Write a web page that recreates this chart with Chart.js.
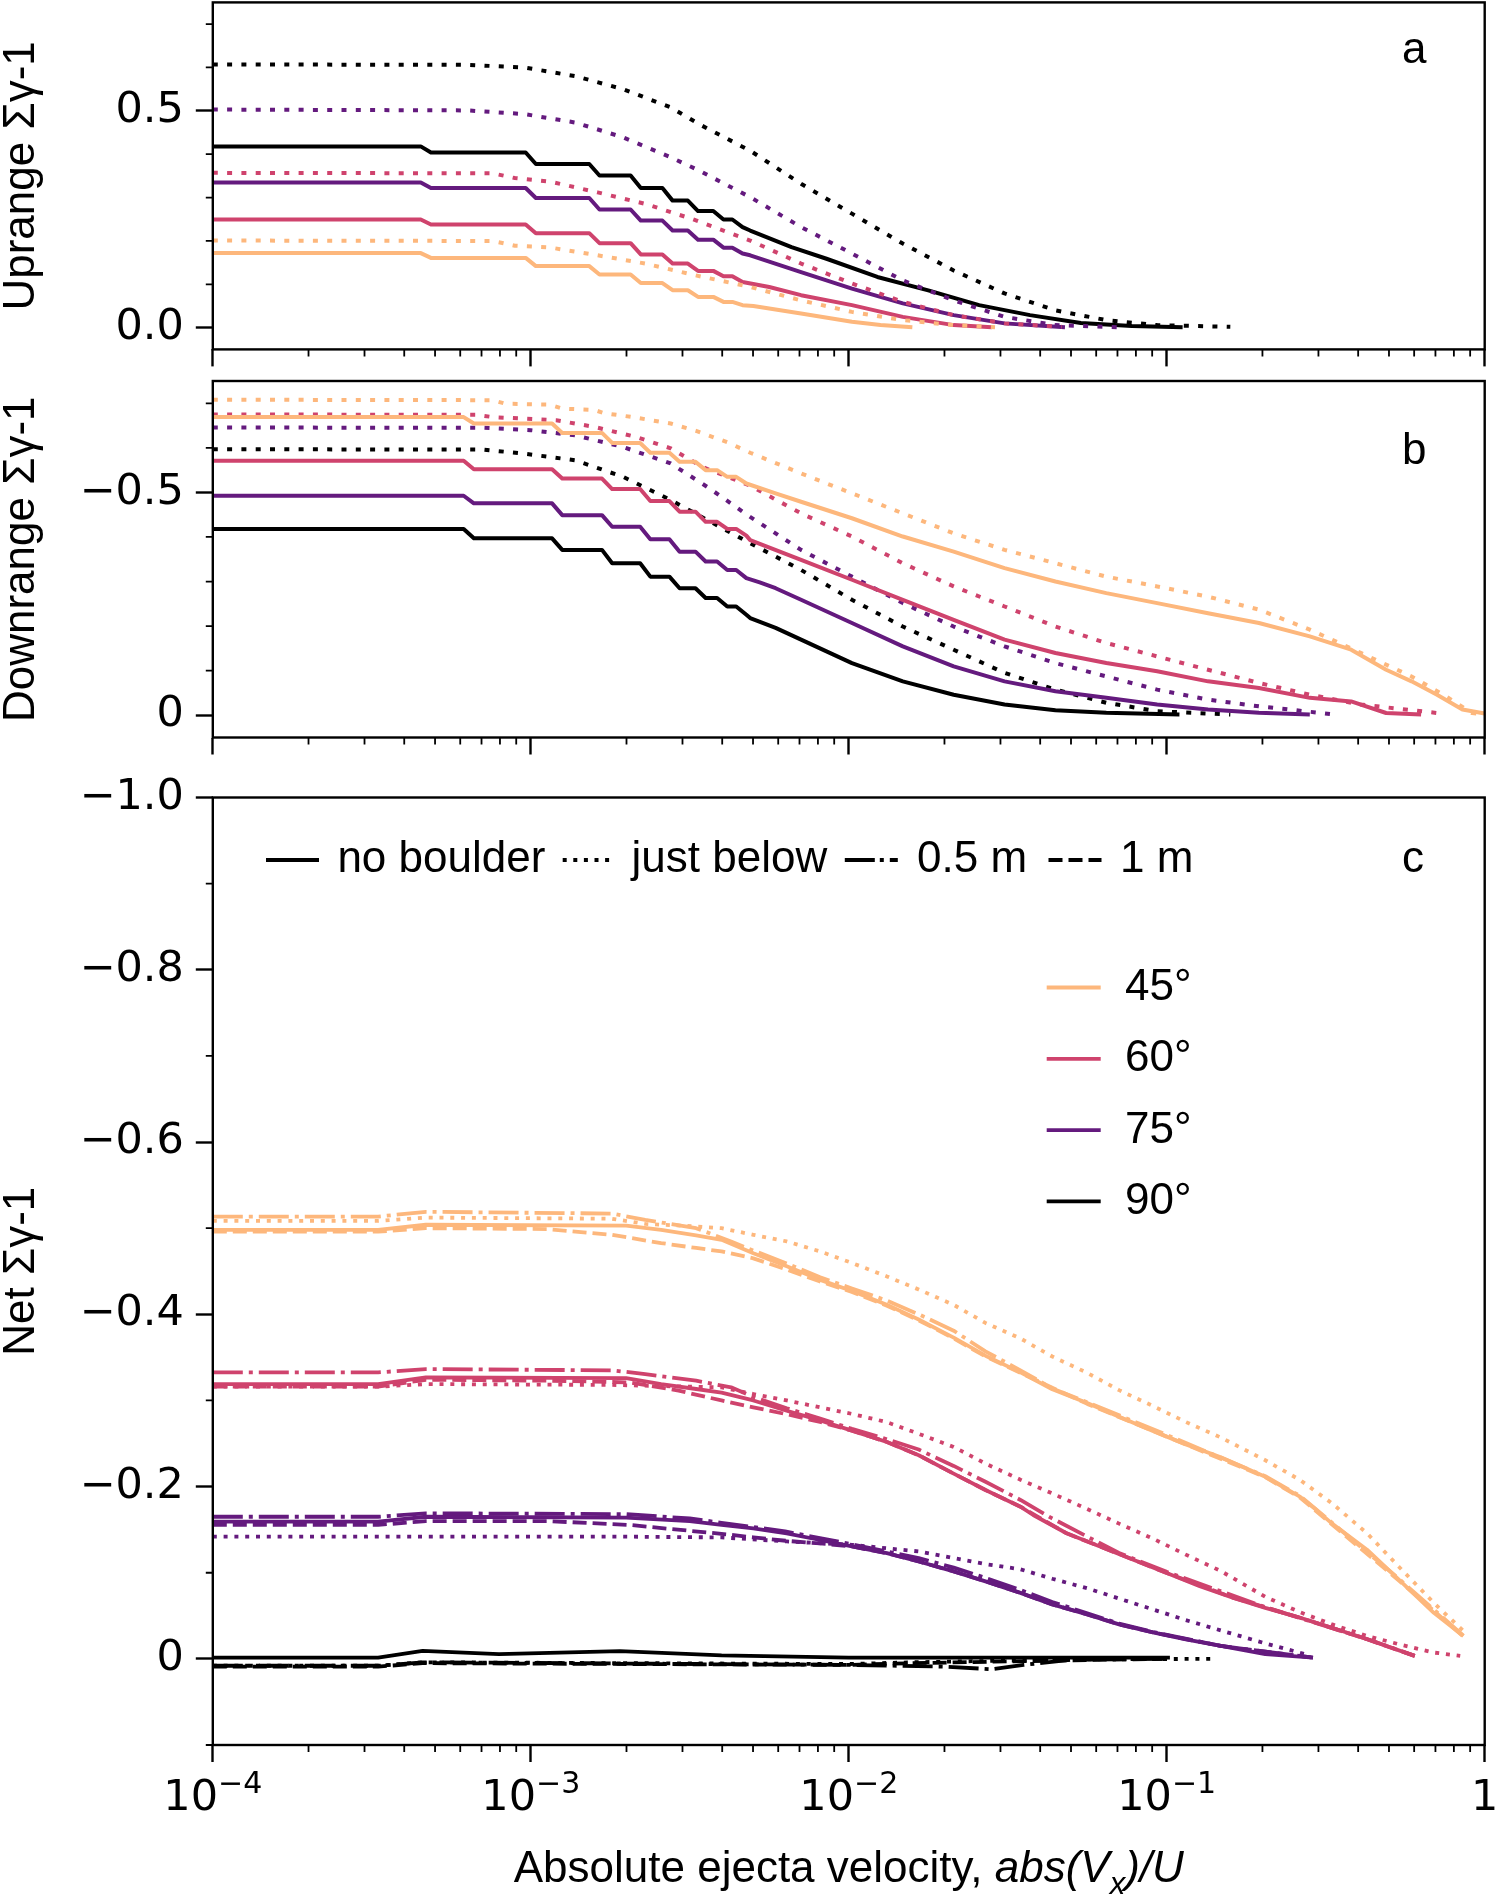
<!DOCTYPE html>
<html><head><meta charset="utf-8">
<script src="https://cdn.jsdelivr.net/npm/chart.js@4.4.1/dist/chart.umd.min.js"></script>
<style>
html,body{margin:0;padding:0;background:#fff;}
body{width:1498px;height:1896px;position:relative;overflow:hidden;}
canvas{position:absolute;left:0;}
</style></head><body>
<canvas id="ca" width="1498" height="375" style="top:0px;width:1498px;height:375px"></canvas>
<canvas id="cb" width="1498" height="395" style="top:375px;width:1498px;height:395px"></canvas>
<canvas id="cc" width="1498" height="1126" style="top:770px;width:1498px;height:1126px"></canvas>
<script>
// ---------- axis ticks and labels ----------
const xMajorTicks = [1e-4, 1e-3, 1e-2, 1e-1, 1];
const xTickBase = ['10', '10', '10', '10', '1'];
const xTickExp = ['\u22124', '\u22123', '\u22122', '\u22121', ''];
const xMinorTicks = [2e-4,3e-4,4e-4,5e-4,6e-4,7e-4,8e-4,9e-4,
  2e-3,3e-3,4e-3,5e-3,6e-3,7e-3,8e-3,9e-3,
  2e-2,3e-2,4e-2,5e-2,6e-2,7e-2,8e-2,9e-2,
  0.2,0.3,0.4,0.5,0.6,0.7,0.8,0.9];
const aYTicks = [0, 0.5];
const aYTickLabels = ['0.0', '0.5'];
const aYMinor = [0.1, 0.2, 0.3, 0.4, 0.6, 0.7];
const bYTicks = [-0.5, 0];
const bYTickLabels = ['\u22120.5', '0'];
const bYMinor = [-0.7, -0.6, -0.4, -0.3, -0.2, -0.1];
const cYTicks = [-1.0, -0.8, -0.6, -0.4, -0.2, 0];
const cYTickLabels = ['\u22121.0', '\u22120.8', '\u22120.6', '\u22120.4', '\u22120.2', '0'];
const cYMinor = [-0.9, -0.7, -0.5, -0.3, -0.1, 0.1];

const angleLabels = ['45\u00b0', '60\u00b0', '75\u00b0', '90\u00b0'];
const angleColors = ['#fdb77c', '#cf436d', '#641a7e', '#000000'];
const styleLabels = ['no boulder', 'just below', '0.5 m', '1 m'];

// ---------- panel a : Uprange (pairs are [log10(|Vx|/U), value]) ----------
const aStepLogX = [-3.33, -3.00, -2.80, -2.67, -2.57, -2.49, -2.41, -2.35];
const aLevels45 = [0.172, 0.161, 0.142, 0.1225, 0.103, 0.0864, 0.071, 0.0595, 0.052];
const aLevels60 = [0.2495, 0.238, 0.218, 0.195, 0.169, 0.148, 0.131, 0.1186, 0.1055];
const aLevels75 = [0.335, 0.322, 0.299, 0.2725, 0.247, 0.224, 0.203, 0.1845, 0.171];
const aLevels90 = [0.418, 0.404, 0.3775, 0.351, 0.322, 0.293, 0.269, 0.2495, 0.232];
const aTail45 = [[-2.30,0.050],[-2.15,0.033],[-1.99,0.0136],[-1.90,0.006],[-1.80,0.001]];
const aTail60 = [[-2.25,0.094],[-2.15,0.075],[-1.99,0.052],[-1.83,0.025],[-1.67,0.006],[-1.55,0.001]];
const aTail75 = [[-2.31,0.167],[-2.15,0.128],[-1.99,0.090],[-1.83,0.056],[-1.67,0.029],[-1.51,0.010],[-1.32,0.001]];
const aTail90 = [[-2.31,0.224],[-2.18,0.186],[-2.07,0.159],[-1.91,0.117],[-1.75,0.086],[-1.59,0.052],[-1.43,0.029],[-1.27,0.011],[-1.11,0.004],[-0.95,0.001]];
const aDot45 = [[-4,0.201],[-3.12,0.200],[-3.05,0.189],[-2.94,0.185],[-2.79,0.167],[-2.64,0.148],[-2.49,0.122],[-2.31,0.094],[-2.15,0.063],[-1.99,0.0365],[-1.83,0.0175],[-1.67,0.006],[-1.54,0.001]];
const aDot60 = [[-4,0.357],[-3.12,0.356],[-3.05,0.345],[-2.94,0.337],[-2.79,0.312],[-2.64,0.2856],[-2.49,0.250],[-2.31,0.201],[-2.15,0.148],[-1.99,0.102],[-1.83,0.0595],[-1.67,0.029],[-1.51,0.010],[-1.33,0.002]];
const aDot75 = [[-4,0.503],[-3.2,0.501],[-3.02,0.4925],[-2.86,0.473],[-2.71,0.439],[-2.56,0.393],[-2.47,0.362],[-2.31,0.301],[-2.15,0.232],[-1.99,0.171],[-1.83,0.109],[-1.67,0.063],[-1.51,0.025],[-1.35,0.006],[-1.15,0.001]];
const aDot90 = [[-4,0.607],[-3.2,0.606],[-3.02,0.600],[-2.86,0.580],[-2.71,0.550],[-2.56,0.508],[-2.47,0.469],[-2.31,0.408],[-2.15,0.332],[-1.99,0.263],[-1.83,0.194],[-1.67,0.132],[-1.51,0.079],[-1.35,0.040],[-1.19,0.0175],[-1.03,0.006],[-0.80,0.002]];

// ---------- panel b : Downrange ----------
const bStepLogX = [-3.195, -2.917, -2.76, -2.64, -2.548, -2.466, -2.398, -2.338];
const bLevels45 = [-0.669, -0.6546, -0.6335, -0.611, -0.589, -0.5686, -0.550, -0.535, -0.520];
const bLevels60 = [-0.571, -0.552, -0.531, -0.5075, -0.4806, -0.4567, -0.434, -0.418, -0.403];
const bLevels75 = [-0.4925, -0.4755, -0.449, -0.423, -0.395, -0.367, -0.345, -0.326, -0.3076];
const bLevels90 = [-0.418, -0.397, -0.371, -0.341, -0.311, -0.285, -0.263, -0.244, -0.2254];
const bTail45 = [[-2.23,-0.498],[-2.15,-0.479],[-1.99,-0.442],[-1.83,-0.401],[-1.67,-0.367],[-1.51,-0.330],[-1.35,-0.300],[-1.19,-0.274],[-1.03,-0.2516],[-0.87,-0.229],[-0.71,-0.207],[-0.55,-0.177],[-0.42,-0.147],[-0.31,-0.102],[-0.23,-0.076],[-0.15,-0.046],[-0.07,-0.013],[0.0,-0.004]];
const bTail60 = [[-2.31,-0.393],[-2.15,-0.3486],[-1.99,-0.304],[-1.83,-0.259],[-1.67,-0.214],[-1.51,-0.1695],[-1.35,-0.1397],[-1.19,-0.117],[-1.03,-0.0985],[-0.87,-0.076],[-0.71,-0.061],[-0.55,-0.039],[-0.42,-0.031],[-0.31,-0.005],[-0.20,-0.0016]];
const bTail75 = [[-2.28,-0.298],[-2.23,-0.285],[-2.15,-0.259],[-1.99,-0.207],[-1.83,-0.1545],[-1.67,-0.1097],[-1.51,-0.076],[-1.35,-0.0537],[-1.19,-0.039],[-1.03,-0.024],[-0.87,-0.0128],[-0.71,-0.0054],[-0.55,-0.0016]];
const bTail90 = [[-2.31,-0.218],[-2.23,-0.196],[-2.15,-0.1695],[-1.99,-0.117],[-1.83,-0.076],[-1.67,-0.046],[-1.51,-0.024],[-1.35,-0.011],[-1.19,-0.0054],[-0.96,-0.0016]];
const bDot45 = [[-4,-0.708],[-3.12,-0.707],[-3.08,-0.699],[-2.94,-0.697],[-2.90,-0.688],[-2.80,-0.685],[-2.77,-0.678],[-2.68,-0.669],[-2.56,-0.6546],[-2.48,-0.638],[-2.38,-0.612],[-2.31,-0.589],[-2.15,-0.5426],[-1.99,-0.498],[-1.83,-0.453],[-1.67,-0.408],[-1.51,-0.371],[-1.35,-0.341],[-1.19,-0.311],[-1.03,-0.289],[-0.87,-0.266],[-0.71,-0.237],[-0.55,-0.192],[-0.39,-0.140],[-0.23,-0.087],[-0.13,-0.046],[-0.04,-0.005],[0.0,-0.002]];
const bDot60 = [[-4,-0.675],[-3.17,-0.674],[-3.12,-0.669],[-2.92,-0.662],[-2.80,-0.647],[-2.67,-0.6246],[-2.56,-0.599],[-2.46,-0.557],[-2.31,-0.515],[-2.15,-0.453],[-1.99,-0.401],[-1.83,-0.341],[-1.67,-0.289],[-1.51,-0.244],[-1.35,-0.199],[-1.19,-0.162],[-1.03,-0.132],[-0.87,-0.102],[-0.71,-0.0725],[-0.55,-0.046],[-0.39,-0.024],[-0.15,-0.005],[-0.13,-0.003]];
const bDot75 = [[-4,-0.6456],[-3.15,-0.645],[-3.0,-0.6396],[-2.86,-0.628],[-2.71,-0.602],[-2.56,-0.565],[-2.44,-0.51],[-2.31,-0.445],[-2.15,-0.371],[-1.99,-0.311],[-1.83,-0.2516],[-1.67,-0.199],[-1.51,-0.1545],[-1.35,-0.117],[-1.19,-0.087],[-1.03,-0.0575],[-0.87,-0.035],[-0.71,-0.020],[-0.47,-0.0016]];
const bDot90 = [[-4,-0.597],[-3.15,-0.596],[-3.02,-0.587],[-2.86,-0.572],[-2.71,-0.535],[-2.56,-0.483],[-2.45,-0.44],[-2.31,-0.386],[-2.15,-0.326],[-1.99,-0.259],[-1.83,-0.199],[-1.67,-0.147],[-1.51,-0.095],[-1.35,-0.0575],[-1.19,-0.028],[-1.03,-0.009],[-0.80,-0.0016]];

// ---------- panel c : Net ----------
const cSolid45 = [[-4,-0.498],[-3.48,-0.498],[-3.33,-0.504],[-2.70,-0.503],[-2.59,-0.498],[-2.48,-0.4916],[-2.40,-0.4865],[-2.30,-0.471],[-2.195,-0.4558],[-2.09,-0.440],[-1.99,-0.427],[-1.88,-0.411],[-1.78,-0.394],[-1.67,-0.373],[-1.57,-0.352],[-1.46,-0.3326],[-1.36,-0.313],[-1.25,-0.297],[-1.15,-0.281],[-1.04,-0.264],[-0.94,-0.249],[-0.83,-0.234],[-0.69,-0.2113],[-0.58,-0.188],[-0.53,-0.173],[-0.48,-0.157],[-0.37,-0.1267],[-0.27,-0.092],[-0.16,-0.0535],[-0.067,-0.0266]];
const cDashDot45 = [[-4,-0.5135],[-3.48,-0.5135],[-3.33,-0.519],[-2.745,-0.517],[-2.64,-0.5096],[-2.48,-0.500],[-2.37,-0.4846],[-2.30,-0.474],[-2.195,-0.459],[-2.09,-0.443],[-1.99,-0.430],[-1.88,-0.416],[-1.78,-0.400],[-1.67,-0.381],[-1.57,-0.357],[-1.46,-0.335],[-1.36,-0.314],[-1.25,-0.298],[-1.0,-0.260],[-0.69,-0.212],[-0.58,-0.189],[-0.48,-0.158],[-0.27,-0.093],[-0.067,-0.027]];
const cDash45 = [[-4,-0.496],[-3.48,-0.496],[-3.33,-0.500],[-2.95,-0.499],[-2.745,-0.4923],[-2.59,-0.4827],[-2.48,-0.477],[-2.40,-0.473],[-2.30,-0.465],[-2.195,-0.452],[-2.09,-0.438],[-1.99,-0.426],[-1.88,-0.410],[-1.78,-0.393],[-1.67,-0.372],[-1.57,-0.351],[-1.46,-0.332],[-1.25,-0.296],[-1.0,-0.258],[-0.69,-0.211],[-0.58,-0.187],[-0.48,-0.156],[-0.27,-0.091],[-0.067,-0.026]];
const cDot45 = [[-4,-0.5085],[-3.48,-0.5085],[-3.33,-0.5123],[-2.745,-0.511],[-2.64,-0.505],[-2.48,-0.502],[-2.40,-0.500],[-2.30,-0.4923],[-2.195,-0.4846],[-2.09,-0.473],[-1.99,-0.4596],[-1.88,-0.444],[-1.78,-0.4288],[-1.67,-0.411],[-1.57,-0.390],[-1.46,-0.372],[-1.36,-0.351],[-1.25,-0.332],[-1.15,-0.312],[-1.04,-0.293],[-0.94,-0.275],[-0.83,-0.257],[-0.69,-0.2306],[-0.58,-0.2075],[-0.48,-0.1805],[-0.37,-0.1458],[-0.27,-0.107],[-0.16,-0.065],[-0.06,-0.030]];
const cSolid60 = [[-4,-0.319],[-3.48,-0.319],[-3.33,-0.3268],[-2.70,-0.326],[-2.59,-0.319],[-2.48,-0.3133],[-2.40,-0.309],[-2.30,-0.300],[-2.195,-0.288],[-2.09,-0.2768],[-1.99,-0.265],[-1.88,-0.2517],[-1.78,-0.2364],[-1.67,-0.215],[-1.57,-0.196],[-1.46,-0.1767],[-1.42,-0.167],[-1.315,-0.1458],[-1.21,-0.1305],[-1.105,-0.115],[-1.0,-0.0997],[-0.896,-0.0843],[-0.79,-0.0708],[-0.69,-0.0592],[-0.58,-0.0477],[-0.48,-0.0361],[-0.37,-0.0227],[-0.22,-0.0035]];
const cDashDot60 = [[-4,-0.3326],[-3.48,-0.3326],[-3.33,-0.3364],[-2.745,-0.335],[-2.64,-0.3306],[-2.48,-0.323],[-2.37,-0.3152],[-2.30,-0.304],[-2.195,-0.291],[-2.09,-0.279],[-1.99,-0.267],[-1.88,-0.255],[-1.78,-0.243],[-1.67,-0.224],[-1.57,-0.2056],[-1.46,-0.1845],[-1.36,-0.163],[-1.25,-0.142],[-1.15,-0.123],[-1.0,-0.101],[-0.69,-0.060],[-0.37,-0.023],[-0.22,-0.0035]];
const cDash60 = [[-4,-0.316],[-3.48,-0.316],[-3.33,-0.324],[-2.95,-0.323],[-2.69,-0.321],[-2.535,-0.3114],[-2.40,-0.300],[-2.30,-0.292],[-2.195,-0.284],[-2.09,-0.275],[-1.99,-0.265],[-1.88,-0.2517],[-1.78,-0.2364],[-1.67,-0.215],[-1.57,-0.196],[-1.46,-0.1767],[-1.315,-0.1458],[-1.21,-0.1305],[-1.0,-0.0997],[-0.79,-0.0708],[-0.58,-0.0477],[-0.37,-0.0227],[-0.22,-0.0035]];
const cDot60 = [[-4,-0.316],[-3.48,-0.316],[-3.33,-0.319],[-2.745,-0.318],[-2.40,-0.3152],[-2.30,-0.3075],[-2.195,-0.300],[-2.09,-0.292],[-1.99,-0.2844],[-1.88,-0.2748],[-1.78,-0.2613],[-1.67,-0.246],[-1.57,-0.2267],[-1.46,-0.208],[-1.36,-0.192],[-1.25,-0.174],[-1.15,-0.157],[-1.04,-0.139],[-0.94,-0.121],[-0.83,-0.102],[-0.69,-0.072],[-0.58,-0.054],[-0.48,-0.040],[-0.37,-0.0266],[-0.27,-0.017],[-0.16,-0.0073],[-0.077,-0.0035]];
const cSolid75 = [[-4,-0.1594],[-3.48,-0.1594],[-3.33,-0.165],[-2.70,-0.164],[-2.50,-0.160],[-2.40,-0.1555],[-2.30,-0.1516],[-2.195,-0.1458],[-2.09,-0.138],[-1.99,-0.1305],[-1.88,-0.1227],[-1.78,-0.113],[-1.67,-0.1016],[-1.57,-0.090],[-1.46,-0.0766],[-1.36,-0.0632],[-1.25,-0.0516],[-1.15,-0.040],[-1.04,-0.0304],[-0.94,-0.0227],[-0.83,-0.015],[-0.69,-0.0054],[-0.54,-0.0015]];
const cDashDot75 = [[-4,-0.165],[-3.48,-0.165],[-3.33,-0.169],[-2.70,-0.168],[-2.50,-0.163],[-2.40,-0.158],[-2.20,-0.148],[-1.99,-0.133],[-1.78,-0.117],[-1.67,-0.106],[-1.57,-0.094],[-1.46,-0.080],[-1.36,-0.066],[-1.25,-0.053],[-1.15,-0.041],[-1.04,-0.031],[-0.83,-0.015],[-0.54,-0.0015]];
const cDash75 = [[-4,-0.1555],[-3.48,-0.1555],[-3.33,-0.160],[-2.95,-0.160],[-2.69,-0.1555],[-2.37,-0.144],[-2.30,-0.141],[-2.195,-0.137],[-2.09,-0.134],[-1.99,-0.1305],[-1.88,-0.1227],[-1.78,-0.113],[-1.67,-0.1016],[-1.57,-0.090],[-1.46,-0.0766],[-1.36,-0.0632],[-1.25,-0.0516],[-1.15,-0.040],[-1.04,-0.0304],[-0.83,-0.015],[-0.54,-0.0015]];
const cDot75 = [[-4,-0.142],[-2.745,-0.142],[-2.40,-0.141],[-2.195,-0.1363],[-1.99,-0.1324],[-1.78,-0.1247],[-1.67,-0.117],[-1.57,-0.110],[-1.46,-0.104],[-1.36,-0.093],[-1.25,-0.082],[-1.15,-0.070],[-1.04,-0.057],[-0.94,-0.045],[-0.83,-0.033],[-0.69,-0.018],[-0.55,-0.004]];
const cSolid90 = [[-4,-0.0015],[-3.48,-0.0015],[-3.34,-0.0092],[-3.10,-0.0054],[-2.72,-0.009],[-2.40,-0.004],[-2.0,-0.0015],[-0.99,-0.0015]];
const cDashDot90 = [[-4,0.008],[-3.48,0.008],[-3.34,0.004],[-2.0,0.007],[-1.7,0.009],[-1.55,0.012],[-1.45,0.007],[-1.3,0.001],[-1.0,0.0]];
const cDash90 = [[-4,0.009],[-3.48,0.009],[-3.34,0.005],[-2.0,0.007],[-1.8,0.005],[-1.5,0.003],[-1.2,0.001],[-1.0,0.0]];
const cDot90 = [[-4,0.008],[-3.48,0.008],[-3.34,0.004],[-2.0,0.006],[-1.8,0.004],[-1.5,0.002],[-1.2,0.0004],[-0.85,0.0]];

// ---------- helpers ----------
function pts(pairs) { return pairs.map(p => ({ x: Math.pow(10, p[0]), y: p[1] })); }
function stairs(levels, steps, tail) {
  const hw = 0.016;
  const out = [[-4, levels[0]]];
  steps.forEach((s, k) => { out.push([s - hw, levels[k]]); out.push([s + hw, levels[k + 1]]); });
  return out.concat(tail);
}
const DOT_AB = [5, 9.3];
const DOT_C = [4, 6.8];
const DASH_C = [14, 6];
const DASHDOT_C = [30, 6, 4, 6];
const FONT_TXT = '"Liberation Sans", Arial, sans-serif';
const FONT_TICK = '"DejaVu Sans", sans-serif';

const decor = {
  id: 'decor',
  afterDatasetsDraw(chart, args, o) {
    const ctx = chart.ctx, ca = chart.chartArea, xs = chart.scales.x, ys = chart.scales.y;
    ctx.save();
    ctx.setLineDash([]);
    ctx.strokeStyle = '#000'; ctx.lineWidth = 2.4; ctx.lineCap = 'butt';
    ctx.strokeRect(ca.left, ca.top, ca.right - ca.left, ca.bottom - ca.top);
    ctx.lineWidth = 1.8; ctx.beginPath();
    o.yMinor.forEach(v => { const py = ys.getPixelForValue(v); ctx.moveTo(ca.left, py); ctx.lineTo(ca.left - 7, py); });
    xMinorTicks.forEach(v => { const px = xs.getPixelForValue(v); ctx.moveTo(px, ca.bottom); ctx.lineTo(px, ca.bottom + 7); });
    ctx.stroke();
    ctx.fillStyle = '#000'; ctx.textAlign = 'left'; ctx.textBaseline = 'alphabetic';
    ctx.font = '44px ' + FONT_TXT;
    ctx.fillText(o.letter, 1402, ca.top + o.letterDy);
    if (o.xLabels) {
      xMajorTicks.forEach((v, i) => {
        const px = xs.getPixelForValue(v);
        ctx.font = '43px ' + FONT_TICK; const wb = ctx.measureText(xTickBase[i]).width;
        ctx.font = '30px ' + FONT_TICK; const we = xTickExp[i] ? ctx.measureText(xTickExp[i]).width : 0;
        const x0 = px - (wb + we) / 2;
        ctx.font = '43px ' + FONT_TICK; ctx.fillText(xTickBase[i], x0, ca.bottom + 64.5);
        if (xTickExp[i]) { ctx.font = '30px ' + FONT_TICK; ctx.fillText(xTickExp[i], x0 + wb, ca.bottom + 48); }
      });
      const parts = [
        { t: 'Absolute ejecta velocity, ', f: '44px ' + FONT_TXT, dy: 0 },
        { t: 'abs(V', f: 'italic 44px ' + FONT_TXT, dy: 0 },
        { t: 'x', f: 'italic 31px ' + FONT_TXT, dy: 12 },
        { t: ')/U', f: 'italic 44px ' + FONT_TXT, dy: 0 }
      ];
      let tw = 0;
      parts.forEach(p => { ctx.font = p.f; p.w = ctx.measureText(p.t).width; tw += p.w; });
      let cx = (ca.left + ca.right) / 2 - tw / 2;
      parts.forEach(p => { ctx.font = p.f; ctx.fillText(p.t, cx, ca.bottom + 137 + p.dy); cx += p.w; });
    }
    if (o.legends) {
      // line-style legend
      const hx = [266, 562.7, 844.8, 1048.5], tx = [337.4, 631.5, 917, 1120];
      const dashes = [[], [4, 6.6], [30, 5, 4, 6], [14, 6]];
      const ly = ca.top + 62.5;
      ctx.strokeStyle = '#000'; ctx.lineWidth = 4;
      styleLabels.forEach((lab, i) => {
        ctx.setLineDash(dashes[i]); ctx.beginPath(); ctx.moveTo(hx[i], ly); ctx.lineTo(hx[i] + 53, ly); ctx.stroke();
        ctx.setLineDash([]); ctx.font = '44px ' + FONT_TXT; ctx.fillText(lab, tx[i], ly + 11.7);
      });
      // angle legend
      const ay = [190, 261.3, 332.6, 403.9];
      ctx.lineWidth = 3.8;
      angleLabels.forEach((lab, i) => {
        const y = ca.top + ay[i];
        ctx.strokeStyle = angleColors[i]; ctx.beginPath(); ctx.moveTo(1046.7, y); ctx.lineTo(1100.7, y); ctx.stroke();
        ctx.fillStyle = '#000'; ctx.font = '44px ' + FONT_TXT; ctx.fillText(lab, 1125, y + 12.5);
      });
    }
    ctx.restore();
  }
};

function makePanel(p) {
  const datasets = p.series.map(s => ({
    data: pts(s.pairs), borderColor: s.color, borderWidth: s.lw, borderDash: s.dash,
    pointRadius: 0, pointHoverRadius: 0, fill: false, tension: 0,
    borderCapStyle: 'butt', borderJoinStyle: 'round'
  }));
  new Chart(document.getElementById(p.canvas), {
    type: 'line',
    data: { datasets },
    plugins: [decor],
    options: {
      responsive: false, animation: false, devicePixelRatio: 1, events: [],
      layout: { padding: { left: 0, right: 13.3, top: p.padTop, bottom: 0 } },
      plugins: {
        legend: { display: false }, tooltip: { enabled: false },
        decor: { yMinor: p.yMinor, letter: p.letter, letterDy: p.letterDy, xLabels: p.xLabels, legends: p.legends }
      },
      scales: {
        x: {
          type: 'logarithmic', min: 1e-4, max: 1,
          afterBuildTicks: ax => { ax.ticks = xMajorTicks.map(v => ({ value: v })); },
          afterFit: ax => { ax.height = p.xH; ax.paddingLeft = 0; ax.paddingRight = 0; },
          grid: { display: true, drawOnChartArea: false, drawTicks: true, tickLength: 17, tickWidth: 2.4, tickColor: '#000', color: '#000' },
          border: { display: false },
          ticks: { display: false, autoSkip: false }
        },
        y: {
          type: 'linear', min: p.yMin, max: p.yMax, reverse: p.reverse,
          afterBuildTicks: ax => { ax.ticks = p.yTicks.map(v => ({ value: v })); },
          afterFit: ax => { ax.width = 212.8; ax.paddingTop = 0; ax.paddingBottom = 0; },
          grid: { display: true, drawOnChartArea: false, drawTicks: true, tickLength: 17, tickWidth: 2.4, tickColor: '#000', color: '#000' },
          border: { display: false },
          ticks: { autoSkip: false, padding: 12, color: '#000', font: { family: FONT_TICK, size: 43 },
                   callback: (v, i) => p.yTickLabels[i] },
          title: { display: true, text: p.title, color: '#000', padding: 0,
                   font: { family: FONT_TXT, size: 44, lineHeight: 1 } }
        }
      }
    }
  });
}

const LW_AB = 4, LW_C = 3.8;
const aLevels = [aLevels45, aLevels60, aLevels75, aLevels90];
const aTails = [aTail45, aTail60, aTail75, aTail90];
const aDots = [aDot45, aDot60, aDot75, aDot90];
const bLevels = [bLevels45, bLevels60, bLevels75, bLevels90];
const bTails = [bTail45, bTail60, bTail75, bTail90];
const bDots = [bDot45, bDot60, bDot75, bDot90];
const cSolids = [cSolid45, cSolid60, cSolid75, cSolid90];
const cDashDots = [cDashDot45, cDashDot60, cDashDot75, cDashDot90];
const cDashes = [cDash45, cDash60, cDash75, cDash90];
const cDots = [cDot45, cDot60, cDot75, cDot90];

const aSeries = [], bSeries = [], cSeries = [];
angleColors.forEach((col, i) => {
  aSeries.push({ pairs: aDots[i], color: col, lw: LW_AB, dash: DOT_AB });
  aSeries.push({ pairs: stairs(aLevels[i], aStepLogX, aTails[i]), color: col, lw: LW_AB, dash: [] });
  bSeries.push({ pairs: bDots[i], color: col, lw: LW_AB, dash: DOT_AB });
  bSeries.push({ pairs: stairs(bLevels[i], bStepLogX, bTails[i]), color: col, lw: LW_AB, dash: [] });
  cSeries.push({ pairs: cDots[i], color: col, lw: LW_C, dash: DOT_C });
  cSeries.push({ pairs: cDashes[i], color: col, lw: LW_C, dash: DASH_C });
  cSeries.push({ pairs: cDashDots[i], color: col, lw: LW_C, dash: DASHDOT_C });
  cSeries.push({ pairs: cSolids[i], color: col, lw: LW_C, dash: [] });
});

Chart.defaults.font.family = FONT_TXT;

makePanel({ canvas: 'ca', padTop: 2.4, xH: 25.6, yMin: -0.05, yMax: 0.75, reverse: false,
  yTicks: aYTicks, yTickLabels: aYTickLabels, yMinor: aYMinor, title: 'Uprange \u03a3\u03b3-1',
  letter: 'a', letterDy: 60.6, xLabels: false, legends: false, series: aSeries });
makePanel({ canvas: 'cb', padTop: 6, xH: 32.5, yMin: -0.75, yMax: 0.05, reverse: true,
  yTicks: bYTicks, yTickLabels: bYTickLabels, yMinor: bYMinor, title: 'Downrange \u03a3\u03b3-1',
  letter: 'b', letterDy: 83, xLabels: false, legends: false, series: bSeries });
makePanel({ canvas: 'cc', padTop: 27.5, xH: 151, yMin: -1.0, yMax: 0.1, reverse: true,
  yTicks: cYTicks, yTickLabels: cYTickLabels, yMinor: cYMinor, title: 'Net \u03a3\u03b3-1',
  letter: 'c', letterDy: 74.2, xLabels: true, legends: true, series: cSeries });
</script></body></html>
